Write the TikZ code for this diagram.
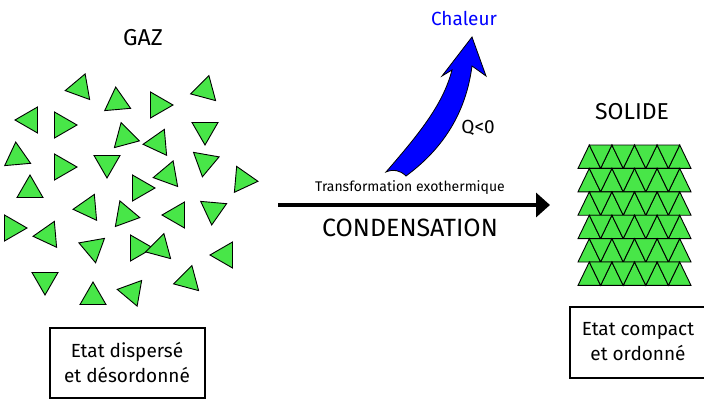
\documentclass[tikz,border=0pt]{standalone}
\usepackage{fontspec}
\setmainfont{Fira Sans}
\usetikzlibrary{shapes.geometric,arrows.meta,positioning}
\definecolor{molgreen}{RGB}{72,230,72}
\begin{document}
\begin{tikzpicture}[x=1pt,y=-1pt,
    tri/.style={regular polygon, regular polygon sides=3, draw, line width=0.9pt, fill=molgreen, inner sep=0pt, minimum size=30pt, rotate=#1},
    tri/.default=0,
    cell/.style={draw, line width=0.9pt, fill=molgreen},
    box/.style={draw, line width=2pt, align=center, font=\fontsize{19}{25}\selectfont},
    ttl/.style={font=\fontsize{23}{26}\selectfont},
  ]
  \useasboundingbox (0,0) rectangle (704,404);

  % Gas molecules
  \foreach \x/\y/\a [count=\i] in {80/88/-20, 117/102/5, 158/105/30, 205/90/-15, 30/120/-30, 62/125/30,
      125/137/15, 158/143/-25, 205/130/180, 17/157/5, 62/167/30, 107/163/180, 168/175/-20,
      205/162/170, 243/180/25, 30/190/0, 140/188/30, 88/208/-25, 125/215/20, 177/215/-30,
      213/210/175, 12/228/30, 48/235/-25, 93/248/190, 138/248/30, 160/248/-15, 225/255/-30,
      45/280/180, 93/297/0, 132/292/-40, 188/280/-15}
    \node[tri=\a] (g\i) at (\x,\y) {};

  % Solid lattice
  \foreach \r in {0,...,5}{
    \foreach \c in {0,...,4}
      \filldraw[cell] (578+22.6*\c,168.4+23.4*\r) -- ++(22.6,0) -- ++(-11.3,-23.4) -- cycle;
    \foreach \c in {0,...,3}
      \filldraw[cell] (589.3+22.6*\c,145+23.4*\r) -- ++(22.6,0) -- ++(-11.3,23.4) -- cycle;
  }

  % Titles
  \node[ttl] (gaz) at (143,38) {GAZ};
  \node[ttl] (solide) at (632,112) {SOLIDE};

  % Boxes
  \node[box, minimum width=155pt, minimum height=70pt] (etatg) at (127,363) {Etat dispersé\\et désordonné};
  \node[box, minimum width=136pt, minimum height=71pt] (etats) at (638,342) {Etat compact\\et ordonné};

  % Main transformation arrow
  \coordinate (a0) at (278,205);
  \coordinate (a1) at (550,205);
  \draw[line width=3.5pt, -{Triangle[length=14pt,width=24pt]}] (a0) -- (a1);
  \node[font=\fontsize{14}{16}\selectfont] (exo) at (410,188) {Transformation exothermique};
  \node[font=\fontsize{25}{28}\selectfont] (cond) at (410,228) {CONDENSATION};

  % Heat release
  \filldraw[fill=blue, draw=black, line width=0.8pt]
    (386,172) .. controls (418,135) and (443,105) .. (452,70)
    -- (442,76) -- (472,37) -- (486,76) -- (472,66)
    .. controls (466,112) and (444,148) .. (406,176)
    .. controls (400,170) and (393,169) .. cycle;
  \node[font=\fontsize{19}{22}\selectfont] (q) at (478,128) {Q<0};
  \node[font=\fontsize{19}{22}\selectfont, text=blue] (chaleur) at (464,18) {Chaleur};
\end{tikzpicture}
\end{document}
